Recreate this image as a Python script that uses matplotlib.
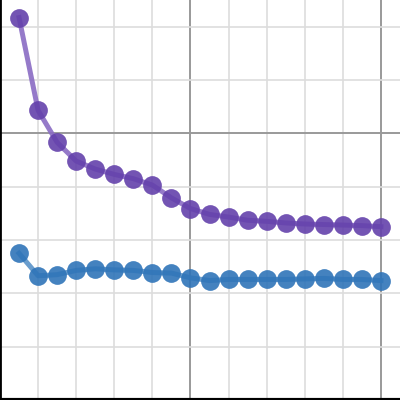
import numpy as np
import matplotlib
matplotlib.use("Agg")
import matplotlib.pyplot as plt
from matplotlib.ticker import MultipleLocator

x = [0.5, 1.0, 1.5, 2.0, 2.5, 3.0, 3.5, 4.0, 4.5, 5.0,
     5.5, 6.0, 6.5, 7.0, 7.5, 8.0, 8.5, 9.0, 9.5, 10.0]
purple = [7.17, 5.43, 4.83, 4.48, 4.33, 4.23, 4.15, 4.03, 3.79, 3.59,
          3.48, 3.43, 3.37, 3.35, 3.32, 3.30, 3.29, 3.28, 3.27, 3.25]
blue = [2.75, 2.33, 2.35, 2.43, 2.46, 2.44, 2.43, 2.39, 2.38, 2.29,
        2.24, 2.26, 2.26, 2.26, 2.26, 2.27, 2.28, 2.26, 2.26, 2.24]

fig = plt.figure(figsize=(4, 4), dpi=100)
ax = fig.add_axes([0, 0, 1, 1])

# grid: light every 1, dark every 5
ax.xaxis.set_major_locator(MultipleLocator(5))
ax.xaxis.set_minor_locator(MultipleLocator(1))
ax.yaxis.set_major_locator(MultipleLocator(5))
ax.yaxis.set_minor_locator(MultipleLocator(1))
ax.grid(which="minor", color="#dddddd", linewidth=1.2)
ax.grid(which="major", color="#999999", linewidth=1.4)
ax.set_axisbelow(True)
ax.tick_params(which="both", length=0, labelbottom=False, labelleft=False)

ax.plot(x, purple, color="#8a6cc4", linewidth=3.6, alpha=0.9, zorder=2)
ax.plot(x, purple, "o", color="#6441ab", markersize=13.5, alpha=0.9,
        markeredgewidth=0, zorder=3)
ax.plot(x, blue, color="#5a92c8", linewidth=3.6, alpha=0.9, zorder=2)
ax.plot(x, blue, "o", color="#2f74b8", markersize=13.5, alpha=0.9,
        markeredgewidth=0, zorder=3)

ax.set_xlim(0, 10.5)
ax.set_ylim(0, 7.5)
for s in ["top", "right"]:
    ax.spines[s].set_visible(False)
ax.spines["left"].set_color("black")
ax.spines["left"].set_linewidth(2)
ax.spines["bottom"].set_color("black")
ax.spines["bottom"].set_linewidth(3)

fig.savefig("out.png", dpi=100)
